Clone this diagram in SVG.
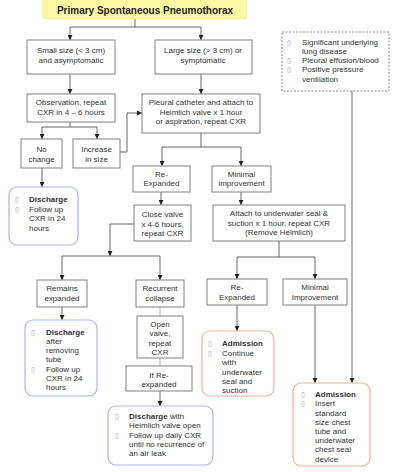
<svg xmlns="http://www.w3.org/2000/svg" width="400" height="472" viewBox="0 0 400 472">
<defs>
<marker id="ah" viewBox="0 0 6 6" refX="6" refY="3" markerWidth="5" markerHeight="5" markerUnits="userSpaceOnUse" orient="auto">
<path d="M0,0 L6,3 L0,6 z" fill="#222"/>
</marker>
<style>
.bx{fill:#fff;stroke:#808080;stroke-width:1}
.blue{fill:#fff;stroke:#a9b5f2;stroke-width:1.2}
.org{fill:#fff;stroke:#f5b096;stroke-width:1.2}
.dash{fill:#fff;stroke:#888;stroke-width:1;stroke-dasharray:2,1.5}
text{font-family:"Liberation Sans",Arial,sans-serif;font-size:8px;fill:#333}
.c{text-anchor:middle}
.b{font-weight:bold}
.t{font-size:10px;font-weight:bold;fill:#222}
.bu{font-family:"DejaVu Sans",sans-serif;font-size:7px;fill:#999}
.ln{fill:none;stroke:#666;stroke-width:1}
.la{fill:none;stroke:#666;stroke-width:1;marker-end:url(#ah)}
.lg{fill:none;stroke:#aaa;stroke-width:1}
</style>
</defs>
<rect width="400" height="472" fill="#fff"/>

<g id="connectors">
<path class="la" d="M135,19 V27 H70 V40"/>
<path class="la" d="M135,27 H201 V40"/>
<path class="la" d="M70,74 V94"/>
<path class="la" d="M201,74 V94"/>
<path class="la" d="M70,122 V127 H42 V139"/>
<path class="la" d="M70,127 H97 V139"/>
<path class="la" d="M120,152 H127 V113 H142"/>
<path class="la" d="M42,168 V187"/>
<path class="la" d="M201,133 V147 H162 V166"/>
<path class="la" d="M201,147 H241 V166"/>
<path class="la" d="M161,192 V205"/>
<path class="la" d="M241,192 V205"/>
<path class="la" d="M134,224 H110 V256"/>
<path class="la" d="M110,256 H62 V280"/>
<path class="la" d="M110,256 H160 V280"/>
<path class="la" d="M279,241 V257 H237 V279"/>
<path class="la" d="M279,257 H315 V279"/>
<path class="la" d="M62,307 V320"/>
<path class="lg" d="M160,307 V316"/>
<path class="lg" d="M160,358 V366"/>
<path class="la" d="M160,391 V406"/>
<path class="la" d="M237,305 V331"/>
<path class="la" d="M315,305 V383"/>
<path class="la" d="M352,91 V383"/>
</g>

<g id="title">
<rect x="43" y="-3" width="204" height="22" rx="3" fill="#fbf8a2" stroke="#e8e27a" stroke-width="0.5"/>
<text class="t c" x="145" y="13.5">Primary Spontaneous Pneumothorax</text>
</g>

<g id="small">
<rect class="bx" x="27" y="40" width="88" height="34"/>
<text class="c" x="71" y="53">Small size (&lt; 3 cm)</text>
<text class="c" x="71" y="62.5">and asymptomatic</text>
</g>

<g id="large">
<rect class="bx" x="155" y="40" width="97" height="34"/>
<text class="c" x="203" y="53">Large size (&gt; 3 cm) or</text>
<text class="c" x="203" y="62.5">symptomatic</text>
</g>

<g id="risk">
<rect class="dash" x="282" y="32" width="107" height="59"/>
<text class="bu" x="287" y="45">▯</text>
<text x="302" y="45">Significant underlying</text>
<text x="302" y="54">lung disease</text>
<text class="bu" x="287" y="63">▯</text>
<text x="302" y="63">Pleural effusion/blood</text>
<text class="bu" x="287" y="72">▯</text>
<text x="302" y="72">Positive pressure</text>
<text x="302" y="82">ventilation</text>
</g>

<g id="observation">
<rect class="bx" x="27" y="94" width="88" height="28"/>
<text class="c" x="71" y="105">Observation, repeat</text>
<text class="c" x="71" y="114.5">CXR in 4 – 6 hours</text>
</g>

<g id="pleural">
<rect class="bx" x="142" y="94" width="118" height="39"/>
<text class="c" x="201" y="105">Pleural catheter and attach to</text>
<text class="c" x="201" y="114.5">Heimlich valve x 1 hour</text>
<text class="c" x="201" y="124">or aspiration, repeat CXR</text>
</g>

<g id="nochange">
<rect class="bx" x="21" y="139" width="41" height="29"/>
<text class="c" x="41.5" y="152">No</text>
<text class="c" x="41.5" y="161.5">change</text>
</g>

<g id="increase">
<rect class="bx" x="73" y="139" width="47" height="29"/>
<text class="c" x="96.5" y="152">Increase</text>
<text class="c" x="96.5" y="161.5">in size</text>
</g>

<g id="discharge1">
<rect class="blue" x="9" y="187" width="69" height="58" rx="8"/>
<text class="bu" x="15" y="202">▯</text>
<text class="b" x="29" y="202">Discharge</text>
<text class="bu" x="15" y="211.5">▯</text>
<text x="29" y="211.5">Follow up</text>
<text x="29" y="221">CXR in 24</text>
<text x="29" y="230.5">hours</text>
</g>

<g id="reexp1">
<rect class="bx" x="133" y="166" width="57" height="26"/>
<text class="c" x="161.5" y="176.5">Re-</text>
<text class="c" x="161.5" y="186">Expanded</text>
</g>

<g id="minimal1">
<rect class="bx" x="212" y="166" width="59" height="26"/>
<text class="c" x="241.5" y="176.5">Minimal</text>
<text class="c" x="241.5" y="186">improvement</text>
</g>

<g id="closevalve">
<rect class="bx" x="134" y="205" width="57" height="36"/>
<text class="c" x="162.5" y="217">Close valve</text>
<text class="c" x="162.5" y="226.5">x 4-6 hours,</text>
<text class="c" x="162.5" y="236">repeat CXR</text>
</g>

<g id="attach">
<rect class="bx" x="213" y="205" width="132" height="36"/>
<text class="c" x="279" y="216">Attach to underwater seal &amp;</text>
<text class="c" x="279" y="225.5">suction x 1 hour, repeat CXR</text>
<text class="c" x="279" y="235">(Remove Heimlich)</text>
</g>

<g id="remains">
<rect class="bx" x="37" y="280" width="50" height="27"/>
<text class="c" x="62" y="291">Remains</text>
<text class="c" x="62" y="300.5">expanded</text>
</g>

<g id="recurrent">
<rect class="bx" x="136" y="280" width="48" height="27"/>
<text class="c" x="160" y="291">Recurrent</text>
<text class="c" x="160" y="300.5">collapse</text>
</g>

<g id="openvalve">
<rect class="bx" x="137" y="316" width="46" height="42"/>
<text class="c" x="160" y="326.5">Open</text>
<text class="c" x="160" y="336">valve,</text>
<text class="c" x="160" y="345.5">repeat</text>
<text class="c" x="160" y="355">CXR</text>
</g>

<g id="ifreexp">
<rect class="bx" x="126" y="366" width="66" height="25"/>
<text class="c" x="159" y="377.5">If Re-</text>
<text class="c" x="159" y="387">expanded</text>
</g>

<g id="discharge2">
<rect class="blue" x="25" y="320" width="72" height="76" rx="8"/>
<text class="bu" x="31" y="335">▯</text>
<text class="b" x="46" y="335">Discharge</text>
<text x="46" y="344">after</text>
<text x="46" y="353">removing</text>
<text x="46" y="362">tube</text>
<text class="bu" x="31" y="371.5">▯</text>
<text x="46" y="371.5">Follow up</text>
<text x="46" y="381">CXR in 24</text>
<text x="46" y="390">hours</text>
</g>

<g id="discharge3">
<rect class="blue" x="108" y="406" width="105" height="59" rx="8"/>
<text class="bu" x="115" y="419">▯</text>
<text x="129" y="419"><tspan class="b">Discharge</tspan> with</text>
<text x="129" y="428">Heimlich valve open</text>
<text class="bu" x="115" y="437.5">▯</text>
<text x="129" y="437.5">Follow up daily CXR</text>
<text x="129" y="447">until no recurrence of</text>
<text x="129" y="456">an air leak</text>
</g>

<g id="reexp2">
<rect class="bx" x="207" y="279" width="60" height="26"/>
<text class="c" x="237" y="290">Re-</text>
<text class="c" x="237" y="300">Expanded</text>
</g>

<g id="minimal2">
<rect class="bx" x="283" y="279" width="64" height="26"/>
<text class="c" x="315" y="290">Minimal</text>
<text class="c" x="315" y="300">Improvement</text>
</g>

<g id="admission1">
<rect class="org" x="202" y="331" width="72" height="65" rx="8"/>
<text class="bu" x="208" y="346">▯</text>
<text class="b" x="222" y="346">Admission</text>
<text class="bu" x="208" y="356">▯</text>
<text x="222" y="356">Continue</text>
<text x="222" y="365">with</text>
<text x="222" y="375">underwater</text>
<text x="222" y="384">seal and</text>
<text x="222" y="393">suction</text>
</g>

<g id="admission2">
<rect class="org" x="293" y="383" width="77" height="83" rx="8"/>
<text class="bu" x="301" y="397">▯</text>
<text class="b" x="315" y="397">Admission</text>
<text class="bu" x="301" y="406">▯</text>
<text x="315" y="406">Insert</text>
<text x="315" y="416">standard</text>
<text x="315" y="425">size chest</text>
<text x="315" y="434">tube  and</text>
<text x="315" y="443">underwater</text>
<text x="315" y="452">chest seal</text>
<text x="315" y="462">device</text>
</g>
</svg>
